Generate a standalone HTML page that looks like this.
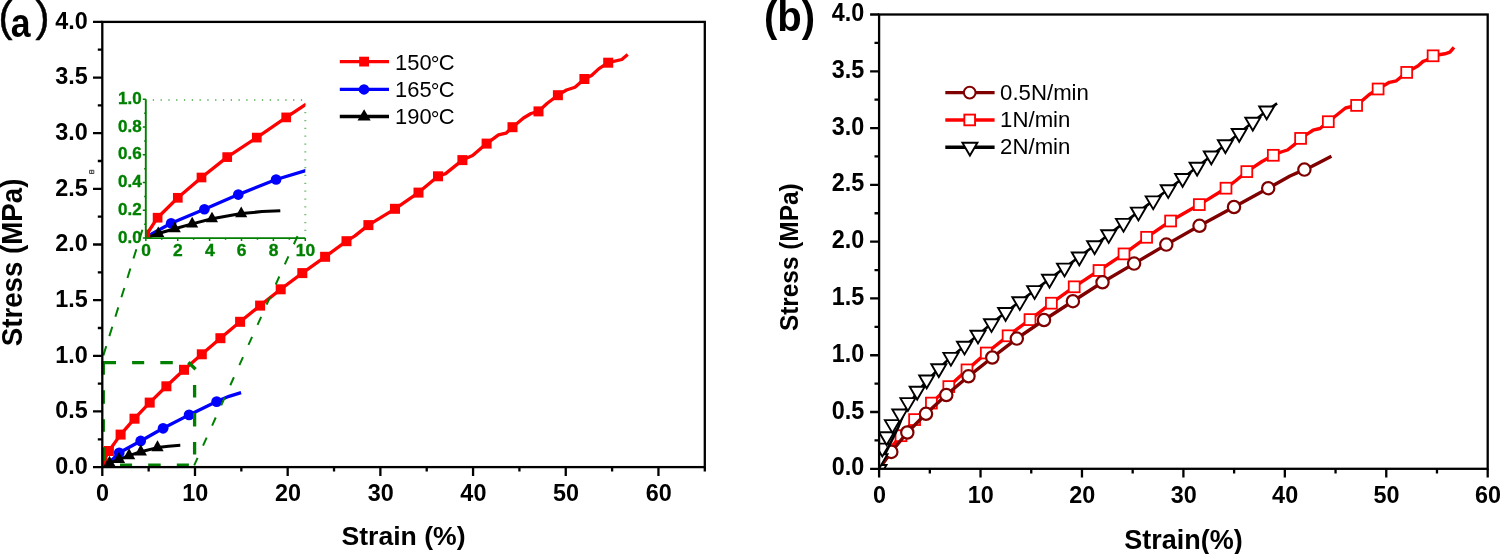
<!DOCTYPE html>
<html><head><meta charset="utf-8"><title>Stress-strain curves</title><style>html,body{margin:0;padding:0;background:#fff;}body{width:1500px;height:554px;overflow:hidden;}svg{display:block;}</style></head><body>
<svg xmlns="http://www.w3.org/2000/svg" width="1500" height="554" viewBox="0 0 1500 554" font-family="'Liberation Sans', Arial, Helvetica, sans-serif">
<rect width="1500" height="554" fill="#fff"/>
<defs><clipPath id="cA"><rect x="102.3" y="21.9" width="602.5" height="445.2"/></clipPath><clipPath id="cI"><rect x="145.8" y="91.25" width="159.5" height="146.85"/></clipPath><clipPath id="cB"><rect x="879.1" y="14.5" width="608.6" height="454.3"/></clipPath></defs>
<g clip-path="url(#cA)">
<polyline points="102.3,467.1 104.5,459.5 108.9,451 120.6,434.6 134.5,418.7 149.7,402.6 166.4,386.3 184,369.8 201.8,354.3 220.4,338.2 240.1,321.8 260.1,305.6 280.7,289.3 302.3,273.1 325.1,256.8 346.5,241.2 354.9,235.9 368.4,225.1 395,208.8 418.5,192.6 438,176.3 445.6,173.6 462.4,160.1 472.6,155.5 486.6,143.6 498.5,134.8 506,133.2 512.5,127.2 523.5,118 531,113.5 538.5,111.4 547,103.5 557.9,95.2 566.5,90 575,87.3 584.4,79 591.5,75.5 599,68.6 608.2,62.7 621.8,59.5 627.7,54.6" fill="none" stroke="#ff0000" stroke-width="3.3" stroke-linejoin="round"/>
<polyline points="102.3,467.1 110.5,461.5 119.2,452.8 140.7,441 163.1,428.3 189.1,414.9 216.7,401.6 229,396.3 241.1,392.6" fill="none" stroke="#0000ff" stroke-width="3.3" stroke-linejoin="round"/>
<polyline points="102.3,467.1 109.5,463.1 119,459.4 129.1,455.6 140.8,451.8 157.5,447.6 168.5,446.2 180.3,445.3" fill="none" stroke="#000" stroke-width="3" stroke-linejoin="round"/>
<rect x="97.6" y="458" width="10" height="10" fill="#ff0000"/>
<rect x="103.9" y="446" width="10" height="10" fill="#ff0000"/>
<rect x="115.6" y="429.6" width="10" height="10" fill="#ff0000"/>
<rect x="129.5" y="413.7" width="10" height="10" fill="#ff0000"/>
<rect x="144.7" y="397.6" width="10" height="10" fill="#ff0000"/>
<rect x="161.4" y="381.3" width="10" height="10" fill="#ff0000"/>
<rect x="179" y="364.8" width="10" height="10" fill="#ff0000"/>
<rect x="196.8" y="349.3" width="10" height="10" fill="#ff0000"/>
<rect x="215.4" y="333.2" width="10" height="10" fill="#ff0000"/>
<rect x="235.1" y="316.8" width="10" height="10" fill="#ff0000"/>
<rect x="255.1" y="300.6" width="10" height="10" fill="#ff0000"/>
<rect x="275.7" y="284.3" width="10" height="10" fill="#ff0000"/>
<rect x="297.3" y="268.1" width="10" height="10" fill="#ff0000"/>
<rect x="320.1" y="251.8" width="10" height="10" fill="#ff0000"/>
<rect x="341.5" y="236.2" width="10" height="10" fill="#ff0000"/>
<rect x="363.4" y="220.1" width="10" height="10" fill="#ff0000"/>
<rect x="390" y="203.8" width="10" height="10" fill="#ff0000"/>
<rect x="413.5" y="187.6" width="10" height="10" fill="#ff0000"/>
<rect x="433" y="171.3" width="10" height="10" fill="#ff0000"/>
<rect x="457.4" y="155.1" width="10" height="10" fill="#ff0000"/>
<rect x="481.6" y="138.6" width="10" height="10" fill="#ff0000"/>
<rect x="507.5" y="122.2" width="10" height="10" fill="#ff0000"/>
<rect x="533.5" y="106.4" width="10" height="10" fill="#ff0000"/>
<rect x="552.9" y="90.2" width="10" height="10" fill="#ff0000"/>
<rect x="579.4" y="74" width="10" height="10" fill="#ff0000"/>
<rect x="603.2" y="57.7" width="10" height="10" fill="#ff0000"/>
<circle cx="119.2" cy="452.8" r="5.4" fill="#0000ff"/>
<circle cx="140.7" cy="441" r="5.4" fill="#0000ff"/>
<circle cx="163.1" cy="428.3" r="5.4" fill="#0000ff"/>
<circle cx="189.1" cy="414.9" r="5.4" fill="#0000ff"/>
<circle cx="216.7" cy="401.6" r="5.4" fill="#0000ff"/>
<polygon points="103.35,466.77 115.65,466.77 109.5,455.77" fill="#000"/>
<polygon points="112.85,463.07 125.15,463.07 119,452.07" fill="#000"/>
<polygon points="122.95,459.27 135.25,459.27 129.1,448.27" fill="#000"/>
<polygon points="134.65,455.47 146.95,455.47 140.8,444.47" fill="#000"/>
<polygon points="151.35,451.27 163.65,451.27 157.5,440.27" fill="#000"/>
</g>
<path d="M101.8 362.6H116M132.1 362.6H144.2M160.3 362.6H172.8M194.6 385.1V397.5M194.6 413.1V426.6M194.6 442.1V454.6M120 465.1H132.1M148.2 465.1H160.7M176.8 465.1H188.9M103.3 360.9V374.7M103.3 390.3V403.8M103.3 419.3V431.8M103.3 447.3V460.8M188.4 362.3L195.6 369.3" stroke="#008000" stroke-width="3.3" fill="none"/>
<line x1="142.4" y1="229.8" x2="102.5" y2="358.2" stroke="#008000" stroke-width="2" stroke-dasharray="9.8 10.5"/>
<line x1="297.5" y1="236.2" x2="194.2" y2="465.3" stroke="#008000" stroke-width="2" stroke-dasharray="8.8 13.3"/>
<rect x="102.3" y="21.9" width="602.5" height="445.2" fill="none" stroke="#000" stroke-width="2.3"/>
<path d="M102.3 467.1V475.9M148.65 467.1V471.6M194.99 467.1V475.9M241.34 467.1V471.6M287.68 467.1V475.9M334.03 467.1V471.6M380.38 467.1V475.9M426.72 467.1V471.6M473.07 467.1V475.9M519.42 467.1V471.6M565.76 467.1V475.9M612.11 467.1V471.6M658.45 467.1V475.9M704.8 467.1V471.6M102.3 467.1H93M102.3 439.28H97.8M102.3 411.45H93M102.3 383.62H97.8M102.3 355.8H93M102.3 327.98H97.8M102.3 300.15H93M102.3 272.32H97.8M102.3 244.5H93M102.3 216.68H97.8M102.3 188.85H93M102.3 161.02H97.8M102.3 133.2H93M102.3 105.38H97.8M102.3 77.55H93M102.3 49.72H97.8M102.3 21.9H93" stroke="#000" stroke-width="2.3" fill="none"/>
<text transform="translate(102.6,501.1) scale(1,1.03)" font-size="23.4" font-weight="bold" text-anchor="middle">0</text>
<text transform="translate(195.29,501.1) scale(1,1.03)" font-size="23.4" font-weight="bold" text-anchor="middle">10</text>
<text transform="translate(287.98,501.1) scale(1,1.03)" font-size="23.4" font-weight="bold" text-anchor="middle">20</text>
<text transform="translate(380.68,501.1) scale(1,1.03)" font-size="23.4" font-weight="bold" text-anchor="middle">30</text>
<text transform="translate(473.37,501.1) scale(1,1.03)" font-size="23.4" font-weight="bold" text-anchor="middle">40</text>
<text transform="translate(566.06,501.1) scale(1,1.03)" font-size="23.4" font-weight="bold" text-anchor="middle">50</text>
<text transform="translate(658.75,501.1) scale(1,1.03)" font-size="23.4" font-weight="bold" text-anchor="middle">60</text>
<text transform="translate(87.85,474) scale(1,1.03)" font-size="23.4" font-weight="bold" text-anchor="end">0.0</text>
<text transform="translate(87.85,418.35) scale(1,1.03)" font-size="23.4" font-weight="bold" text-anchor="end">0.5</text>
<text transform="translate(87.85,362.7) scale(1,1.03)" font-size="23.4" font-weight="bold" text-anchor="end">1.0</text>
<text transform="translate(87.85,307.05) scale(1,1.03)" font-size="23.4" font-weight="bold" text-anchor="end">1.5</text>
<text transform="translate(87.85,251.4) scale(1,1.03)" font-size="23.4" font-weight="bold" text-anchor="end">2.0</text>
<text transform="translate(87.85,195.75) scale(1,1.03)" font-size="23.4" font-weight="bold" text-anchor="end">2.5</text>
<text transform="translate(87.85,140.1) scale(1,1.03)" font-size="23.4" font-weight="bold" text-anchor="end">3.0</text>
<text transform="translate(87.85,84.45) scale(1,1.03)" font-size="23.4" font-weight="bold" text-anchor="end">3.5</text>
<text transform="translate(87.85,28.8) scale(1,1.03)" font-size="23.4" font-weight="bold" text-anchor="end">4.0</text>
<text transform="translate(341.5,544.8)" font-size="26.6" font-weight="bold">Strain (%)</text>
<text transform="translate(21.8,346.3) rotate(-90) scale(1,1.06)" font-size="27.7" font-weight="bold">Stress (MPa)</text>
<text transform="translate(-1.4,31.4)" font-size="42" stroke="#000" stroke-width="0.45">(</text>
<text transform="translate(10.7,36.8) scale(0.89,1)" font-size="40" font-weight="bold">a</text>
<text transform="translate(35.4,31.4)" font-size="42" stroke="#000" stroke-width="0.45">)</text>
<path d="M89.6 170.3h4.2v3.2h-4.2zM91.7 170.3v3.2" fill="none" stroke="#333" stroke-width="0.9"/>
<path d="M153.4 98.9v2M161.19 98.9v2M168.99 98.9v2M176.78 98.9v2M184.58 98.9v2M192.38 98.9v2M200.17 98.9v2M207.97 98.9v2M215.76 98.9v2M223.56 98.9v2M231.35 98.9v2M239.15 98.9v2M246.94 98.9v2M254.74 98.9v2M262.53 98.9v2M270.32 98.9v2M278.12 98.9v2M285.91 98.9v2M293.71 98.9v2M301.5 98.9v2" stroke="#74bd74" stroke-width="1.25" fill="none"/>
<path d="M304.3 230.4h2M304.3 222.55h2M304.3 214.7h2M304.3 206.85h2M304.3 199h2M304.3 191.15h2M304.3 183.3h2M304.3 175.45h2M304.3 167.6h2M304.3 159.75h2M304.3 151.9h2M304.3 144.05h2M304.3 136.2h2M304.3 128.35h2M304.3 120.5h2M304.3 112.65h2M304.3 104.8h2" stroke="#74bd74" stroke-width="1.25" fill="none"/>
<g clip-path="url(#cI)">
<polyline points="145.8,238.1 148.5,231.5 157.6,217.7 177.8,197.8 201.5,177.5 227.2,157.1 256.8,137.6 286.2,117.4 310,101.5" fill="none" stroke="#ff0000" stroke-width="3.3" stroke-linejoin="round"/>
<polyline points="145.8,238.1 153,233.2 171.1,223.2 204.4,209.3 238.3,194.6 276.1,179.5 310,169.3" fill="none" stroke="#0000ff" stroke-width="3.3" stroke-linejoin="round"/>
<polyline points="145.8,238.1 158.3,233.5 174.8,228.7 192.2,223.9 212,218.7 241.2,213.6 262,211.6 280.3,210.7" fill="none" stroke="#000" stroke-width="3" stroke-linejoin="round"/>
<rect x="140.45" y="229.65" width="9.7" height="9.7" fill="#ff0000"/>
<rect x="152.75" y="212.85" width="9.7" height="9.7" fill="#ff0000"/>
<rect x="172.95" y="192.95" width="9.7" height="9.7" fill="#ff0000"/>
<rect x="196.65" y="172.65" width="9.7" height="9.7" fill="#ff0000"/>
<rect x="222.35" y="152.25" width="9.7" height="9.7" fill="#ff0000"/>
<rect x="251.95" y="132.75" width="9.7" height="9.7" fill="#ff0000"/>
<rect x="281.35" y="112.55" width="9.7" height="9.7" fill="#ff0000"/>
<circle cx="171.1" cy="223.2" r="5.3" fill="#0000ff"/>
<circle cx="204.4" cy="209.3" r="5.3" fill="#0000ff"/>
<circle cx="238.3" cy="194.6" r="5.3" fill="#0000ff"/>
<circle cx="276.1" cy="179.5" r="5.3" fill="#0000ff"/>
<polygon points="152.25,237.03 164.35,237.03 158.3,226.43" fill="#000"/>
<polygon points="168.75,232.23 180.85,232.23 174.8,221.63" fill="#000"/>
<polygon points="186.15,227.43 198.25,227.43 192.2,216.83" fill="#000"/>
<polygon points="205.95,222.23 218.05,222.23 212,211.63" fill="#000"/>
<polygon points="235.15,217.13 247.25,217.13 241.2,206.53" fill="#000"/>
</g>
<path d="M145.8 99.25V238.1H305.3" stroke="#008000" stroke-width="1.9" fill="none"/>
<path d="M145.8 238.1H142.8M145.8 224.22H144.2M145.8 210.33H142.8M145.8 196.44H144.2M145.8 182.56H142.8M145.8 168.68H144.2M145.8 154.79H142.8M145.8 140.91H144.2M145.8 127.02H142.8M145.8 113.13H144.2M145.8 99.25H142.8M145.8 238.1V240.9M161.75 238.1V239.7M177.7 238.1V240.9M193.65 238.1V239.7M209.6 238.1V240.9M225.55 238.1V239.7M241.5 238.1V240.9M257.45 238.1V239.7M273.4 238.1V240.9M289.35 238.1V239.7M305.3 238.1V240.9" stroke="#008000" stroke-width="1.5" fill="none"/>
<text transform="translate(141.7,242.7)" font-size="17" font-weight="bold" text-anchor="end" fill="#008000" stroke="#008000" stroke-width="0.35">0.0</text>
<text transform="translate(141.7,214.93)" font-size="17" font-weight="bold" text-anchor="end" fill="#008000" stroke="#008000" stroke-width="0.35">0.2</text>
<text transform="translate(141.7,187.16)" font-size="17" font-weight="bold" text-anchor="end" fill="#008000" stroke="#008000" stroke-width="0.35">0.4</text>
<text transform="translate(141.7,159.39)" font-size="17" font-weight="bold" text-anchor="end" fill="#008000" stroke="#008000" stroke-width="0.35">0.6</text>
<text transform="translate(141.7,131.62)" font-size="17" font-weight="bold" text-anchor="end" fill="#008000" stroke="#008000" stroke-width="0.35">0.8</text>
<text transform="translate(141.7,103.85)" font-size="17" font-weight="bold" text-anchor="end" fill="#008000" stroke="#008000" stroke-width="0.35">1.0</text>
<text transform="translate(146,255.5)" font-size="17.4" font-weight="bold" text-anchor="middle" fill="#008000" stroke="#008000" stroke-width="0.35">0</text>
<text transform="translate(177.9,255.5)" font-size="17.4" font-weight="bold" text-anchor="middle" fill="#008000" stroke="#008000" stroke-width="0.35">2</text>
<text transform="translate(209.8,255.5)" font-size="17.4" font-weight="bold" text-anchor="middle" fill="#008000" stroke="#008000" stroke-width="0.35">4</text>
<text transform="translate(241.7,255.5)" font-size="17.4" font-weight="bold" text-anchor="middle" fill="#008000" stroke="#008000" stroke-width="0.35">6</text>
<text transform="translate(273.6,255.5)" font-size="17.4" font-weight="bold" text-anchor="middle" fill="#008000" stroke="#008000" stroke-width="0.35">8</text>
<text transform="translate(305.5,255.5)" font-size="17.4" font-weight="bold" text-anchor="middle" fill="#008000" stroke="#008000" stroke-width="0.35">10</text>
<line x1="339.8" y1="61.6" x2="389" y2="61.6" stroke="#ff0000" stroke-width="3.4"/>
<rect x="359.2" y="56.7" width="9.8" height="9.8" fill="#ff0000"/>
<text transform="translate(395.1,69.7) scale(1,1.03)" font-size="21.9">150<tspan dx="-0.9" dy="2.1">°</tspan><tspan dx="-0.7" dy="-2.1">C</tspan></text>
<line x1="339.8" y1="89.4" x2="389" y2="89.4" stroke="#0000ff" stroke-width="3.4"/>
<circle cx="364" cy="89.4" r="5.25" fill="#0000ff"/>
<text transform="translate(395.1,96.8) scale(1,1.03)" font-size="21.9">165<tspan dx="-0.9" dy="2.1">°</tspan><tspan dx="-0.7" dy="-2.1">C</tspan></text>
<line x1="339.8" y1="116.5" x2="389" y2="116.5" stroke="#000" stroke-width="3.4"/>
<polygon points="357.5,120.53 370.7,120.53 364.1,109.33" fill="#000"/>
<text transform="translate(395.1,124.4) scale(1,1.03)" font-size="21.9">190<tspan dx="-0.9" dy="2.1">°</tspan><tspan dx="-0.7" dy="-2.1">C</tspan></text>
<g clip-path="url(#cB)">
<polyline points="879.1,468.8 887,452 901,435.7 914.6,419.6 931.4,403.1 948.8,386.6 967,369.9 986.3,353 1008.1,335.8 1030,319.6 1051.4,303.2 1074.2,286.8 1099,270.5 1124,253.9 1146.6,237.3 1170.6,221 1199.3,204.6 1226,188.2 1236,180.5 1246.8,171.6 1262,161.5 1273.3,155.3 1281,152 1287.5,150 1294.7,144.4 1300.6,138.4 1309,132.8 1313,130.2 1320,128.5 1328.3,121.7 1345.5,108 1356.6,105.4 1369,94.8 1378.1,89 1389.4,82.3 1396.4,80.8 1406.7,72.4 1418.2,65.7 1423.1,61.4 1427,60 1433.1,55.8 1444.9,53.8 1449.9,52.2 1454,47.3" fill="none" stroke="#ff0000" stroke-width="3.4" stroke-linejoin="round"/>
<rect x="895.55" y="430.25" width="10.9" height="10.9" fill="#fff" stroke="#ff0000" stroke-width="1.8"/>
<rect x="909.15" y="414.15" width="10.9" height="10.9" fill="#fff" stroke="#ff0000" stroke-width="1.8"/>
<rect x="925.95" y="397.65" width="10.9" height="10.9" fill="#fff" stroke="#ff0000" stroke-width="1.8"/>
<rect x="943.35" y="381.15" width="10.9" height="10.9" fill="#fff" stroke="#ff0000" stroke-width="1.8"/>
<rect x="961.55" y="364.45" width="10.9" height="10.9" fill="#fff" stroke="#ff0000" stroke-width="1.8"/>
<rect x="980.85" y="347.55" width="10.9" height="10.9" fill="#fff" stroke="#ff0000" stroke-width="1.8"/>
<rect x="1002.65" y="330.35" width="10.9" height="10.9" fill="#fff" stroke="#ff0000" stroke-width="1.8"/>
<rect x="1024.55" y="314.15" width="10.9" height="10.9" fill="#fff" stroke="#ff0000" stroke-width="1.8"/>
<rect x="1045.95" y="297.75" width="10.9" height="10.9" fill="#fff" stroke="#ff0000" stroke-width="1.8"/>
<rect x="1068.75" y="281.35" width="10.9" height="10.9" fill="#fff" stroke="#ff0000" stroke-width="1.8"/>
<rect x="1093.55" y="265.05" width="10.9" height="10.9" fill="#fff" stroke="#ff0000" stroke-width="1.8"/>
<rect x="1118.55" y="248.45" width="10.9" height="10.9" fill="#fff" stroke="#ff0000" stroke-width="1.8"/>
<rect x="1141.15" y="231.85" width="10.9" height="10.9" fill="#fff" stroke="#ff0000" stroke-width="1.8"/>
<rect x="1165.15" y="215.55" width="10.9" height="10.9" fill="#fff" stroke="#ff0000" stroke-width="1.8"/>
<rect x="1193.85" y="199.15" width="10.9" height="10.9" fill="#fff" stroke="#ff0000" stroke-width="1.8"/>
<rect x="1220.55" y="182.75" width="10.9" height="10.9" fill="#fff" stroke="#ff0000" stroke-width="1.8"/>
<rect x="1241.35" y="166.15" width="10.9" height="10.9" fill="#fff" stroke="#ff0000" stroke-width="1.8"/>
<rect x="1267.85" y="149.85" width="10.9" height="10.9" fill="#fff" stroke="#ff0000" stroke-width="1.8"/>
<rect x="1295.15" y="132.95" width="10.9" height="10.9" fill="#fff" stroke="#ff0000" stroke-width="1.8"/>
<rect x="1322.85" y="116.25" width="10.9" height="10.9" fill="#fff" stroke="#ff0000" stroke-width="1.8"/>
<rect x="1351.15" y="99.95" width="10.9" height="10.9" fill="#fff" stroke="#ff0000" stroke-width="1.8"/>
<rect x="1372.65" y="83.55" width="10.9" height="10.9" fill="#fff" stroke="#ff0000" stroke-width="1.8"/>
<rect x="1401.25" y="66.95" width="10.9" height="10.9" fill="#fff" stroke="#ff0000" stroke-width="1.8"/>
<rect x="1427.65" y="50.35" width="10.9" height="10.9" fill="#fff" stroke="#ff0000" stroke-width="1.8"/>
<polyline points="879.1,468.8 891.3,451.9 907.3,432.5 926,413.8 946.3,395 968.5,376.3 992.3,357.5 1016.8,338.6 1044,320 1072.9,301.2 1102.5,282.3 1134.1,263.6 1166.3,244.6 1199.5,225.8 1234,207 1268.2,188.2 1290,176 1304.4,169.6 1312.6,166 1321.3,161.4 1331.4,156.3" fill="none" stroke="#800000" stroke-width="3.4" stroke-linejoin="round"/>
<circle cx="891.3" cy="451.9" r="6.15" fill="#fff" stroke="#800000" stroke-width="2.2"/>
<circle cx="907.3" cy="432.5" r="6.15" fill="#fff" stroke="#800000" stroke-width="2.2"/>
<circle cx="926" cy="413.8" r="6.15" fill="#fff" stroke="#800000" stroke-width="2.2"/>
<circle cx="946.3" cy="395" r="6.15" fill="#fff" stroke="#800000" stroke-width="2.2"/>
<circle cx="968.5" cy="376.3" r="6.15" fill="#fff" stroke="#800000" stroke-width="2.2"/>
<circle cx="992.3" cy="357.5" r="6.15" fill="#fff" stroke="#800000" stroke-width="2.2"/>
<circle cx="1016.8" cy="338.6" r="6.15" fill="#fff" stroke="#800000" stroke-width="2.2"/>
<circle cx="1044" cy="320" r="6.15" fill="#fff" stroke="#800000" stroke-width="2.2"/>
<circle cx="1072.9" cy="301.2" r="6.15" fill="#fff" stroke="#800000" stroke-width="2.2"/>
<circle cx="1102.5" cy="282.3" r="6.15" fill="#fff" stroke="#800000" stroke-width="2.2"/>
<circle cx="1134.1" cy="263.6" r="6.15" fill="#fff" stroke="#800000" stroke-width="2.2"/>
<circle cx="1166.3" cy="244.6" r="6.15" fill="#fff" stroke="#800000" stroke-width="2.2"/>
<circle cx="1199.5" cy="225.8" r="6.15" fill="#fff" stroke="#800000" stroke-width="2.2"/>
<circle cx="1234" cy="207" r="6.15" fill="#fff" stroke="#800000" stroke-width="2.2"/>
<circle cx="1268.2" cy="188.2" r="6.15" fill="#fff" stroke="#800000" stroke-width="2.2"/>
<circle cx="1304.4" cy="169.6" r="6.15" fill="#fff" stroke="#800000" stroke-width="2.2"/>
<polyline points="879.1,468.8 885.6,453 889.6,444.9 897.6,428.7 905.3,410 915,395.4 924,384 938.8,368.55 950.9,357.15 964.5,345.95 978,334.95 991.5,323.45 1005.6,312.3 1019.8,301.45 1034.6,290.35 1049.5,279.05 1064.5,267.85 1079.3,256.75 1094.6,245.55 1108.7,234.45 1123.5,223.15 1138.4,211.85 1153.2,200.65 1168.2,189.45 1182.6,178.25 1197.1,167.05 1211.3,155.75 1225.4,144.55 1239.2,133.25 1252.8,122.05 1266.7,110.75 1277.1,103.4" fill="none" stroke="#000" stroke-width="2.6" stroke-linejoin="round"/>
<polygon points="871.5,464.93 886.5,464.93 879,477.73" fill="#fff" stroke="#000" stroke-width="1.9"/>
<polygon points="872.5,454.23 887.5,454.23 880,467.03" fill="#fff" stroke="#000" stroke-width="1.9"/>
<polygon points="874.8,443.63 889.8,443.63 882.3,456.43" fill="#fff" stroke="#000" stroke-width="1.9"/>
<polygon points="879.1,432.23 894.1,432.23 886.6,445.03" fill="#fff" stroke="#000" stroke-width="1.9"/>
<polygon points="884.9,420.13 899.9,420.13 892.4,432.93" fill="#fff" stroke="#000" stroke-width="1.9"/>
<polygon points="892.3,409.43 907.3,409.43 899.8,422.23" fill="#fff" stroke="#000" stroke-width="1.9"/>
<polygon points="900.4,398.13 915.4,398.13 907.9,410.93" fill="#fff" stroke="#000" stroke-width="1.9"/>
<polygon points="909.7,386.73 924.7,386.73 917.2,399.53" fill="#fff" stroke="#000" stroke-width="1.9"/>
<polygon points="919.2,375.53 934.2,375.53 926.7,388.33" fill="#fff" stroke="#000" stroke-width="1.9"/>
<polygon points="931.3,364.28 946.3,364.28 938.8,377.08" fill="#fff" stroke="#000" stroke-width="1.9"/>
<polygon points="943.4,352.88 958.4,352.88 950.9,365.68" fill="#fff" stroke="#000" stroke-width="1.9"/>
<polygon points="957,341.68 972,341.68 964.5,354.48" fill="#fff" stroke="#000" stroke-width="1.9"/>
<polygon points="970.5,330.68 985.5,330.68 978,343.48" fill="#fff" stroke="#000" stroke-width="1.9"/>
<polygon points="984,319.18 999,319.18 991.5,331.98" fill="#fff" stroke="#000" stroke-width="1.9"/>
<polygon points="998.1,308.03 1013.1,308.03 1005.6,320.83" fill="#fff" stroke="#000" stroke-width="1.9"/>
<polygon points="1012.3,297.18 1027.3,297.18 1019.8,309.98" fill="#fff" stroke="#000" stroke-width="1.9"/>
<polygon points="1027.1,286.08 1042.1,286.08 1034.6,298.88" fill="#fff" stroke="#000" stroke-width="1.9"/>
<polygon points="1042,274.78 1057,274.78 1049.5,287.58" fill="#fff" stroke="#000" stroke-width="1.9"/>
<polygon points="1057,263.58 1072,263.58 1064.5,276.38" fill="#fff" stroke="#000" stroke-width="1.9"/>
<polygon points="1071.8,252.48 1086.8,252.48 1079.3,265.28" fill="#fff" stroke="#000" stroke-width="1.9"/>
<polygon points="1087.1,241.28 1102.1,241.28 1094.6,254.08" fill="#fff" stroke="#000" stroke-width="1.9"/>
<polygon points="1101.2,230.18 1116.2,230.18 1108.7,242.98" fill="#fff" stroke="#000" stroke-width="1.9"/>
<polygon points="1116,218.88 1131,218.88 1123.5,231.68" fill="#fff" stroke="#000" stroke-width="1.9"/>
<polygon points="1130.9,207.58 1145.9,207.58 1138.4,220.38" fill="#fff" stroke="#000" stroke-width="1.9"/>
<polygon points="1145.7,196.38 1160.7,196.38 1153.2,209.18" fill="#fff" stroke="#000" stroke-width="1.9"/>
<polygon points="1160.7,185.18 1175.7,185.18 1168.2,197.98" fill="#fff" stroke="#000" stroke-width="1.9"/>
<polygon points="1175.1,173.98 1190.1,173.98 1182.6,186.78" fill="#fff" stroke="#000" stroke-width="1.9"/>
<polygon points="1189.6,162.78 1204.6,162.78 1197.1,175.58" fill="#fff" stroke="#000" stroke-width="1.9"/>
<polygon points="1203.8,151.48 1218.8,151.48 1211.3,164.28" fill="#fff" stroke="#000" stroke-width="1.9"/>
<polygon points="1217.9,140.28 1232.9,140.28 1225.4,153.08" fill="#fff" stroke="#000" stroke-width="1.9"/>
<polygon points="1231.7,128.98 1246.7,128.98 1239.2,141.78" fill="#fff" stroke="#000" stroke-width="1.9"/>
<polygon points="1245.3,117.78 1260.3,117.78 1252.8,130.58" fill="#fff" stroke="#000" stroke-width="1.9"/>
<polygon points="1259.2,106.48 1274.2,106.48 1266.7,119.28" fill="#fff" stroke="#000" stroke-width="1.9"/>
</g>
<rect x="879.1" y="14.5" width="608.6" height="454.3" fill="none" stroke="#000" stroke-width="2.3"/>
<path d="M879.1 468.8V477.6M929.82 468.8V473.6M980.53 468.8V477.6M1031.25 468.8V473.6M1081.97 468.8V477.6M1132.68 468.8V473.6M1183.4 468.8V477.6M1234.12 468.8V473.6M1284.83 468.8V477.6M1335.55 468.8V473.6M1386.27 468.8V477.6M1436.98 468.8V473.6M1487.7 468.8V477.6M879.1 468.8H870.1M879.1 440.41H874.5M879.1 412.01H870.1M879.1 383.62H874.5M879.1 355.23H870.1M879.1 326.83H874.5M879.1 298.44H870.1M879.1 270.04H874.5M879.1 241.65H870.1M879.1 213.26H874.5M879.1 184.86H870.1M879.1 156.47H874.5M879.1 128.07H870.1M879.1 99.68H874.5M879.1 71.29H870.1M879.1 42.89H874.5M879.1 14.5H870.1" stroke="#000" stroke-width="2.3" fill="none"/>
<text transform="translate(879.4,503) scale(1,1.03)" font-size="23.4" font-weight="bold" text-anchor="middle">0</text>
<text transform="translate(980.83,503) scale(1,1.03)" font-size="23.4" font-weight="bold" text-anchor="middle">10</text>
<text transform="translate(1082.27,503) scale(1,1.03)" font-size="23.4" font-weight="bold" text-anchor="middle">20</text>
<text transform="translate(1183.7,503) scale(1,1.03)" font-size="23.4" font-weight="bold" text-anchor="middle">30</text>
<text transform="translate(1285.13,503) scale(1,1.03)" font-size="23.4" font-weight="bold" text-anchor="middle">40</text>
<text transform="translate(1386.57,503) scale(1,1.03)" font-size="23.4" font-weight="bold" text-anchor="middle">50</text>
<text transform="translate(1488,503) scale(1,1.03)" font-size="23.4" font-weight="bold" text-anchor="middle">60</text>
<text transform="translate(864.2,475.4) scale(1,1.07)" font-size="23.4" font-weight="bold" text-anchor="end">0.0</text>
<text transform="translate(864.2,418.61) scale(1,1.07)" font-size="23.4" font-weight="bold" text-anchor="end">0.5</text>
<text transform="translate(864.2,361.83) scale(1,1.07)" font-size="23.4" font-weight="bold" text-anchor="end">1.0</text>
<text transform="translate(864.2,305.04) scale(1,1.07)" font-size="23.4" font-weight="bold" text-anchor="end">1.5</text>
<text transform="translate(864.2,248.25) scale(1,1.07)" font-size="23.4" font-weight="bold" text-anchor="end">2.0</text>
<text transform="translate(864.2,191.46) scale(1,1.07)" font-size="23.4" font-weight="bold" text-anchor="end">2.5</text>
<text transform="translate(864.2,134.67) scale(1,1.07)" font-size="23.4" font-weight="bold" text-anchor="end">3.0</text>
<text transform="translate(864.2,77.89) scale(1,1.07)" font-size="23.4" font-weight="bold" text-anchor="end">3.5</text>
<text transform="translate(864.2,21.1) scale(1,1.07)" font-size="23.4" font-weight="bold" text-anchor="end">4.0</text>
<text transform="translate(1124.3,548.6) scale(1,1.03)" font-size="27" font-weight="bold">Strain(%)</text>
<text transform="translate(797.9,331.1) rotate(-90) scale(1,1.05)" font-size="24.4" font-weight="bold">Stress (MPa)</text>
<text transform="translate(763.9,31.3) scale(0.97,1.02)" font-size="41.3" font-weight="bold">(b)</text>
<line x1="945.3" y1="92.6" x2="994.6" y2="92.6" stroke="#800000" stroke-width="3.4"/>
<circle cx="969.7" cy="92.6" r="5.85" fill="#fff" stroke="#800000" stroke-width="2"/>
<text transform="translate(1000.1,99.7)" font-size="22.2">0.5N/min</text>
<line x1="945.3" y1="119.95" x2="994.6" y2="119.95" stroke="#ff0000" stroke-width="3.4"/>
<rect x="964.35" y="114.6" width="10.7" height="10.7" fill="#fff" stroke="#ff0000" stroke-width="1.9"/>
<text transform="translate(1000.1,127.05)" font-size="22.2">1N/min</text>
<line x1="945.3" y1="147.3" x2="994.6" y2="147.3" stroke="#000" stroke-width="3.4"/>
<polygon points="962.4,142.73 977.4,142.73 969.9,155.53" fill="#fff" stroke="#000" stroke-width="1.9"/>
<text transform="translate(1000.1,154.4)" font-size="22.2">2N/min</text>
</svg>
</body></html>
